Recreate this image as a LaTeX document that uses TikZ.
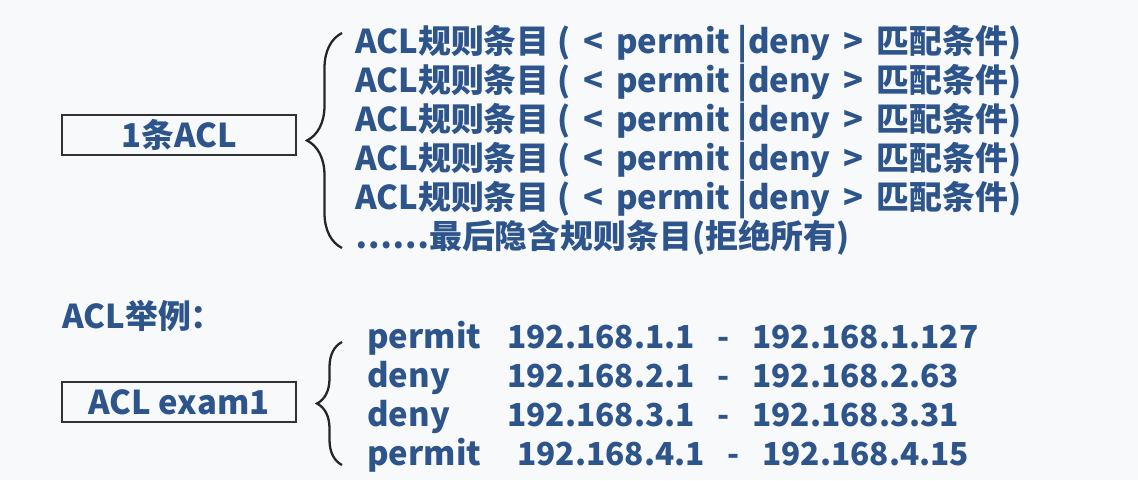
\documentclass[tikz,border=0pt]{standalone}
\usepackage{fontspec}
\setmainfont{Noto Sans CJK SC}
\usetikzlibrary{decorations.pathreplacing}

\definecolor{aclblue}{RGB}{46,84,140}
\definecolor{pagebg}{RGB}{248,249,250}
\definecolor{boxline}{RGB}{50,50,50}

\tikzset{
  aclbox/.style = {draw=boxline, line width=1.1pt, minimum width=4.68cm, minimum height=0.8cm,
                   inner sep=0pt, text=aclblue, font=\fontsize{18.7}{21}\selectfont\bfseries},
  rule/.style   = {anchor=west, inner sep=0pt, text height=14pt, text depth=4pt,
                   text=aclblue, font=\fontsize{18.7}{21}\selectfont\bfseries},
  ip/.style     = {rule, font=\fontsize{18}{21}\selectfont\bfseries},
  bracket/.style = {draw=black!85, line width=1.3pt, decorate, decoration={brace, amplitude=#1}}
}

\begin{document}
\begin{tikzpicture}[x=0.02cm, y=0.02cm]
\fill[pagebg] (0,0) rectangle (1138,-480);
\useasboundingbox (0,0) rectangle (1138,-480);

% the two boxes
\node[aclbox] (one) at (179,-135){1条ACL};
\node[aclbox] (exam) at (179,-402){ACL exam1};

% rule entries of one ACL
\node[rule] (r1) at (355,-45){ACL规则条目 ( \,<\, permit |deny \,>\, 匹配条件)};
\node[rule] (r2) at (355,-84){ACL规则条目 ( \,<\, permit |deny \,>\, 匹配条件)};
\node[rule] (r3) at (355,-123){ACL规则条目 ( \,<\, permit |deny \,>\, 匹配条件)};
\node[rule] (r4) at (355,-162){ACL规则条目 ( \,<\, permit |deny \,>\, 匹配条件)};
\node[rule] (r5) at (355,-201){ACL规则条目 ( \,<\, permit |deny \,>\, 匹配条件)};
\node[rule] (r6) at (355,-240){……最后隐含规则条目(拒绝所有)};

\node[rule] (title) at (62,-320){ACL举例：};

% example entries
\node[rule] (a1) at (367,-340){permit};
\node[rule] (a2) at (367,-379){deny};
\node[rule] (a3) at (367,-418){deny};
\node[rule] (a4) at (367,-457){permit};
\node[ip] (f1) at (507,-340){192.168.1.1};
\node[ip] (f2) at (507,-379){192.168.2.1};
\node[ip] (f3) at (507,-418){192.168.3.1};
\node[ip] (f4) at (517,-457){192.168.4.1};
\node[ip] (d1) at (717,-340){-};
\node[ip] (d2) at (717,-379){-};
\node[ip] (d3) at (717,-418){-};
\node[ip] (d4) at (727,-457){-};
\node[ip] (t1) at (752,-340){192.168.1.127};
\node[ip] (t2) at (752,-379){192.168.2.63};
\node[ip] (t3) at (752,-418){192.168.3.31};
\node[ip] (t4) at (762,-457){192.168.4.15};

% braces
\coordinate (b1top) at (342,-33);
\coordinate (b1bot) at (342,-248);
\coordinate (b2top) at (342,-342);
\coordinate (b2bot) at (342,-465);
\draw[bracket=0.7cm] (b1bot) -- (b1top);
\draw[bracket=0.5cm] (b2bot) -- (b2top);
\end{tikzpicture}
\end{document}
